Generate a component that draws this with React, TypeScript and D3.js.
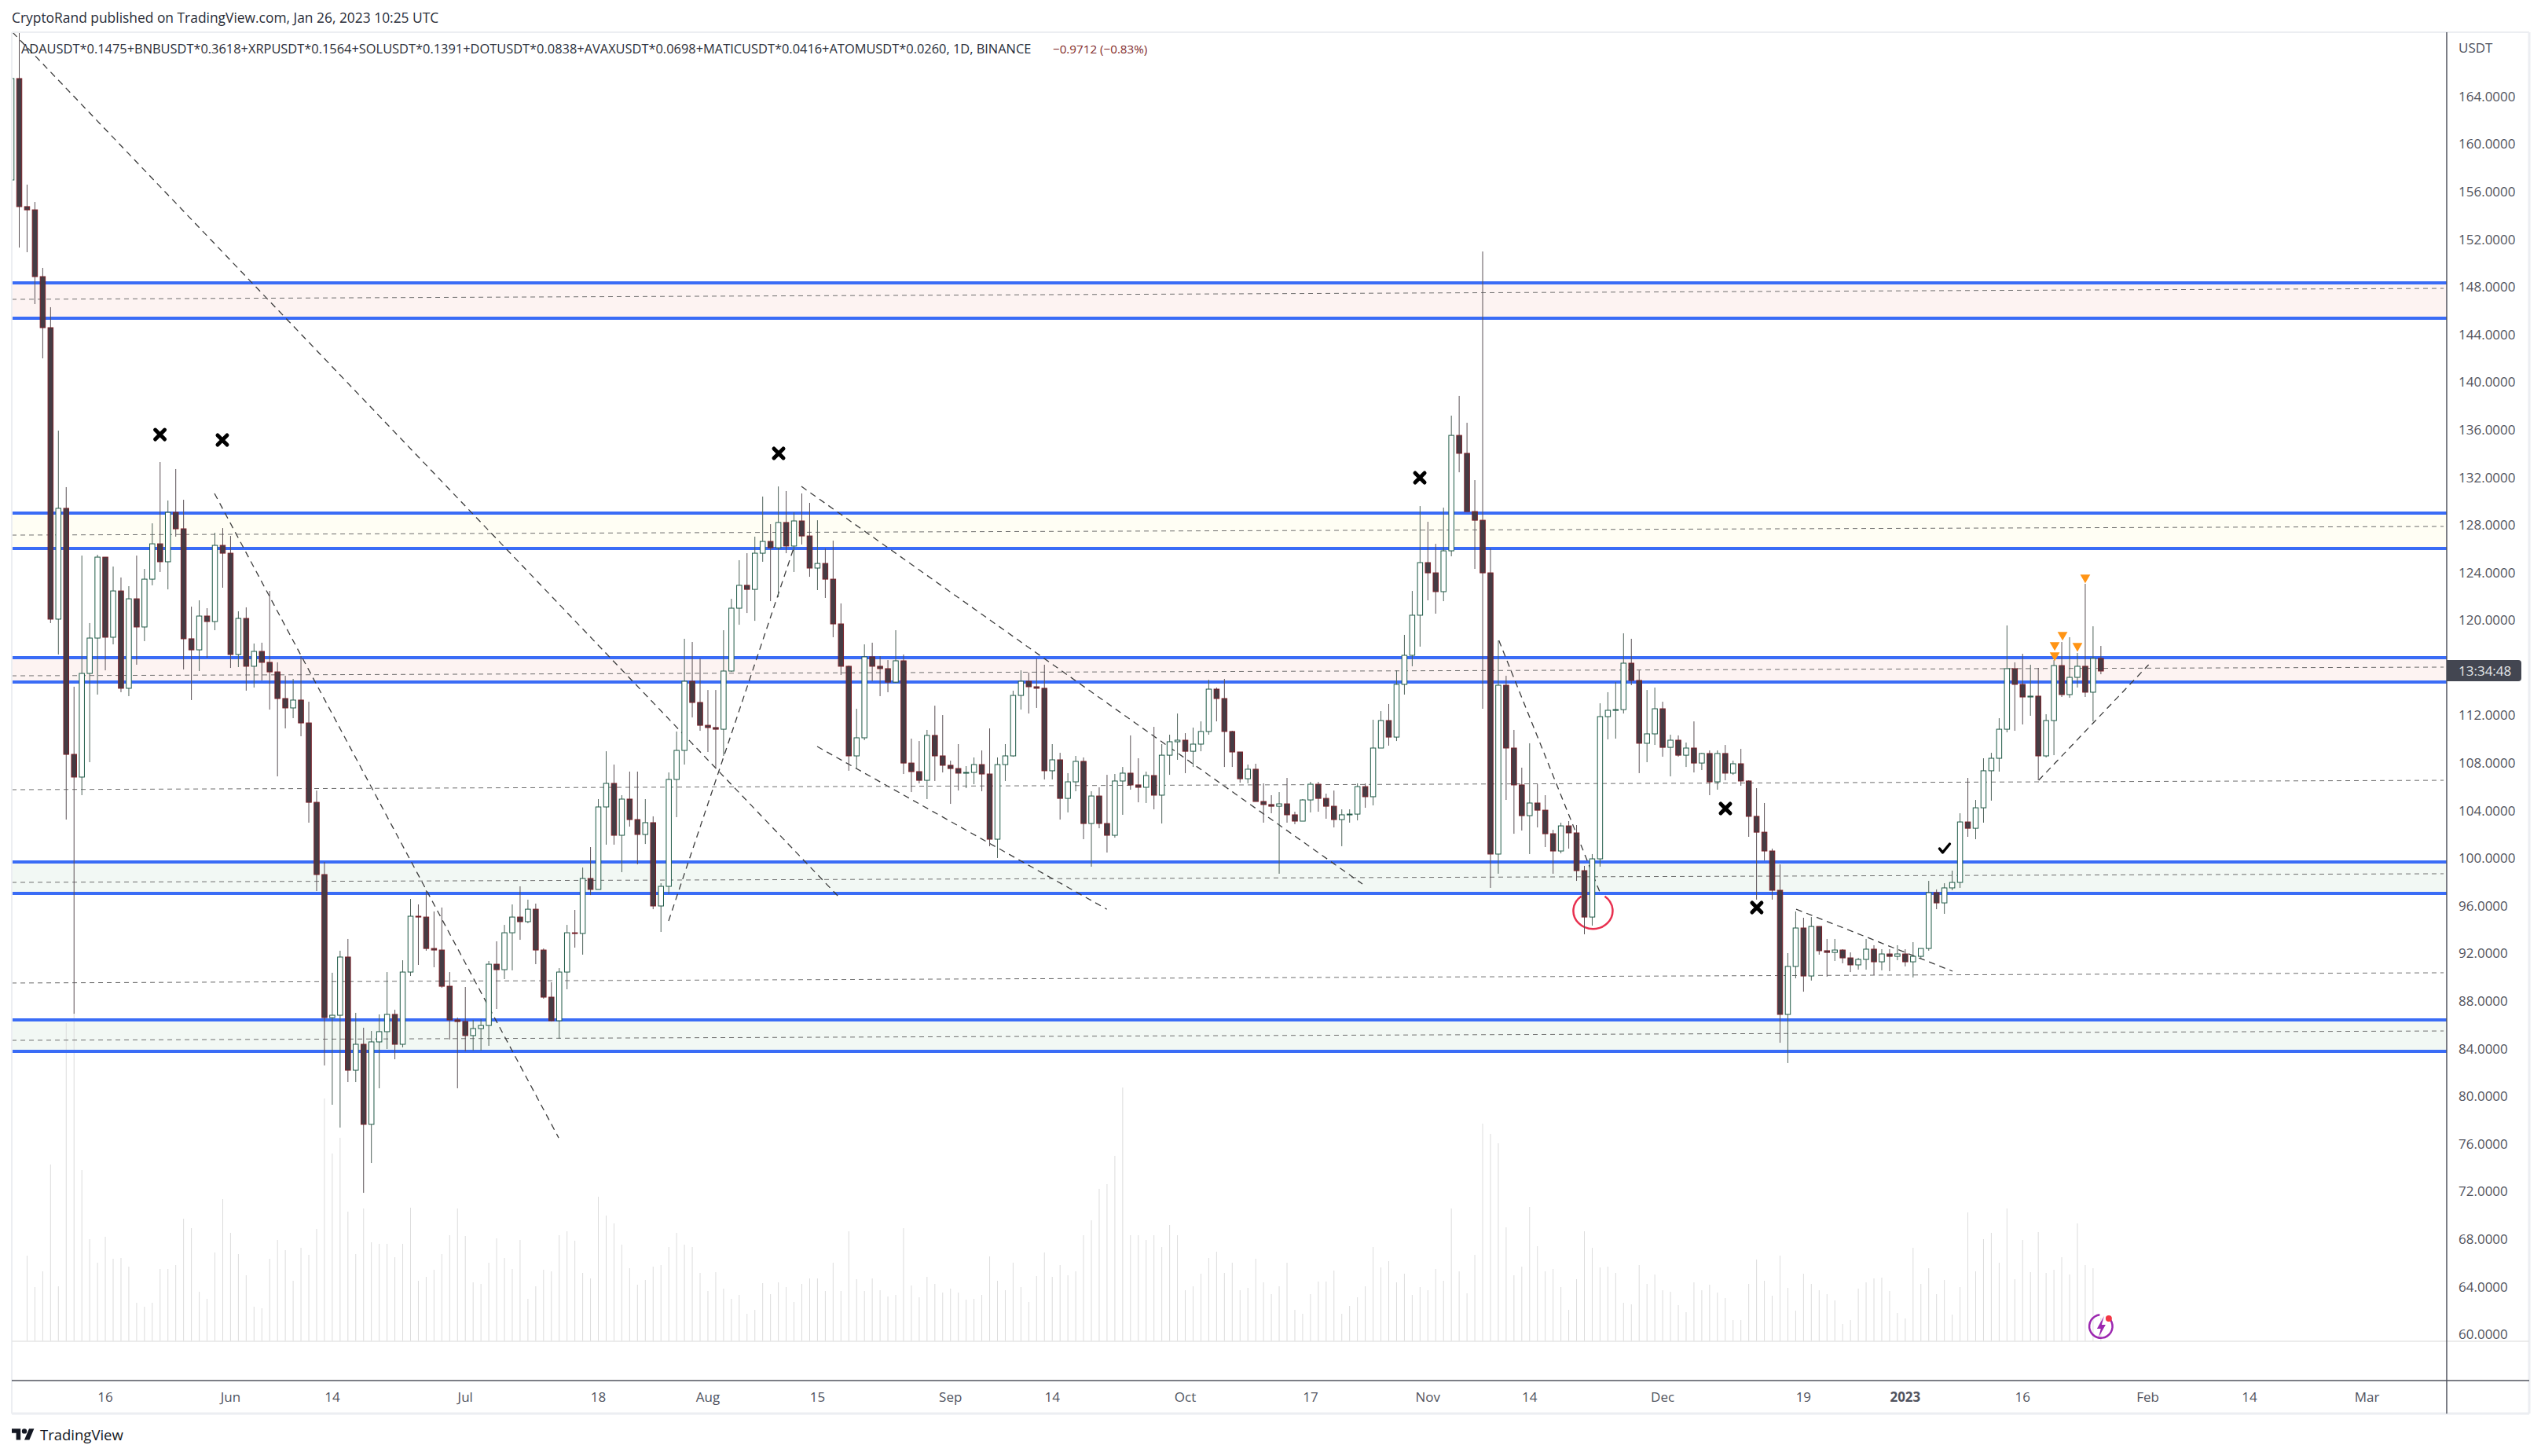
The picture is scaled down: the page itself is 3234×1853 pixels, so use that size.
import { arc, line, scaleLinear, scaleUtc, symbol, symbolTriangle, utcDay } from "d3";
import type { ReactElement } from "react";

const WIDTH = 3234;
const HEIGHT = 1853;
const FONT = "'Open Sans', 'Noto Sans', sans-serif";

const firstDay = new Date(Date.UTC(2022, 4, 5));
const dayOf = (bar: number): Date => utcDay.offset(firstDay, bar);

// bars start one day before firstDay, that candle is cut off by the left edge
const firstBar = -1;
const firstOpen = 156.98;

const closes = [
  165.5,
  154.74, 154.47, 148.86, 144.57, 120.08, 129.39, 108.72, 106.81, 115.52, 118.49,
  125.29, 118.56, 122.45, 114.27, 121.79, 119.42, 123.44, 126.41, 124.9, 129.05,
  127.67, 118.43, 117.5, 120.34, 119.88, 126.28, 125.62, 117.11, 120.14, 116.12,
  117.37, 116.45, 115.65, 113.41, 112.62, 113.28, 111.36, 104.69, 98.62, 86.6,
  86.8, 91.69, 82.18, 84.36, 77.63, 84.56, 85.42, 86.87, 84.36, 90.43,
  95.12, 95.05, 92.41, 92.28, 89.24, 86.41, 86.27, 85.09, 85.68, 85.94,
  91.09, 90.63, 93.73, 95.05, 94.66, 95.71, 92.28, 88.32, 86.34, 90.43,
  93.73, 93.67, 98.29, 97.37, 104.3, 106.28, 101.92, 104.96, 103.24, 101.99,
  102.98, 95.98, 97.63, 106.61, 109.05, 114.86, 113.08, 111.16, 110.97, 110.83,
  115.72, 121.0, 122.92, 122.58, 125.62, 126.61, 126.08, 128.2, 126.22, 128.33,
  127.07, 124.37, 124.76, 123.44, 119.68, 116.12, 108.59, 110.11, 116.91, 116.12,
  115.92, 114.79, 116.58, 107.99, 107.27, 106.54, 110.31, 108.59, 107.8, 107.53,
  107.14, 107.2, 107.86, 107.07, 101.59, 107.86, 108.59, 113.67, 114.86, 114.4,
  114.27, 107.34, 108.26, 105.02, 106.41, 108.13, 102.91, 105.22, 102.91, 101.92,
  106.48, 107.14, 106.15, 105.95, 106.94, 105.29, 108.65, 109.78, 109.91, 108.98,
  109.58, 110.64, 114.2, 113.41, 110.64, 108.92, 106.67, 107.47, 104.76, 104.5,
  104.36, 104.56, 103.64, 103.11, 104.89, 106.21, 105.02, 104.36, 103.24, 103.64,
  103.7, 106.01, 105.16, 109.25, 111.56, 110.17, 114.6, 117.04, 120.41, 124.83,
  123.97, 122.39, 125.82, 135.52, 134.01, 129.12, 128.39, 123.97, 100.34, 114.53,
  109.25, 106.15, 103.57, 104.63, 104.03, 102.05, 100.6, 102.71, 102.12, 98.95,
  95.05, 99.94, 111.89, 112.42, 112.48, 116.38, 114.93, 109.65, 110.44, 112.55,
  109.31, 109.91, 108.65, 109.25, 107.99, 108.79, 106.41, 108.79, 107.14, 107.93,
  106.48, 103.51, 102.18, 100.6, 97.3, 86.87, 90.9, 94.13, 90.1, 94.26,
  92.22, 92.08, 92.28, 91.62, 91.03, 91.49, 92.35, 91.29, 91.95, 91.75,
  91.95, 91.29, 91.75, 92.41, 97.1, 96.24, 97.5, 97.96, 103.04, 102.51,
  104.23, 107.34, 108.39, 110.83, 115.92, 114.6, 113.54, 113.61, 108.59, 111.56,
  116.18, 113.74, 115.19, 116.12, 113.94, 116.78, 115.72,
];

const highs = [
  165.5,
  169.79, 156.59, 155.13, 149.59, 146.29, 135.92, 131.17, 114.4, 125.42, 119.75,
  125.49, 125.29, 124.5, 123.58, 122.85, 125.42, 124.3, 128.13, 133.28, 130.05,
  132.69, 130.11, 121.13, 121.66, 121.0, 127.34, 127.73, 127.07, 120.74, 121.07,
  118.03, 118.1, 122.45, 116.45, 115.32, 115.06, 116.97, 113.14, 105.68, 99.68,
  90.37, 92.22, 93.21, 87.0, 85.75, 85.48, 86.87, 90.43, 87.26, 91.42,
  96.57, 96.11, 97.3, 95.52, 95.85, 90.43, 86.6, 89.18, 86.41, 86.47,
  91.36, 93.01, 94.39, 96.11, 97.63, 96.51, 96.18, 92.41, 89.57, 90.76,
  94.39, 95.65, 99.21, 100.93, 104.96, 108.98, 107.86, 105.29, 107.27, 107.27,
  104.96, 103.51, 97.89, 107.2, 110.64, 118.43, 118.16, 116.78, 114.13, 114.13,
  119.15, 121.79, 125.03, 125.62, 127.01, 130.38, 128.06, 131.23, 130.84, 129.05,
  130.64, 129.85, 128.39, 126.02, 126.68, 121.4, 116.18, 112.55, 117.96, 118.1,
  116.97, 116.64, 119.15, 117.11, 110.04, 109.84, 110.77, 112.81, 112.02, 108.19,
  109.58, 107.73, 108.46, 109.05, 110.9, 108.46, 109.58, 114.07, 115.78, 115.59,
  116.78, 116.25, 109.58, 108.85, 107.14, 108.59, 108.46, 105.62, 105.95, 107.0,
  107.07, 107.66, 110.31, 108.39, 107.27, 111.03, 109.58, 110.37, 112.15, 110.5,
  110.97, 111.49, 114.99, 114.33, 115.06, 110.7, 108.92, 107.86, 107.93, 106.28,
  105.29, 105.55, 106.74, 103.9, 104.96, 106.41, 106.41, 105.42, 105.68, 104.1,
  104.1, 106.28, 106.28, 111.63, 112.35, 112.95, 115.78, 118.76, 122.45, 129.58,
  128.26, 126.41, 129.45, 137.18, 138.83, 136.58, 131.76, 150.97, 126.02, 118.29,
  115.32, 110.77, 107.6, 109.65, 106.21, 105.29, 102.38, 102.98, 103.11, 102.78,
  99.35, 100.34, 113.01, 113.94, 114.79, 118.89, 118.43, 115.78, 114.13, 114.33,
  113.14, 110.37, 110.31, 109.71, 111.49, 108.85, 109.05, 109.05, 109.51, 108.19,
  109.18, 106.54, 105.88, 104.63, 100.8, 99.48, 92.02, 95.52, 94.99, 95.05,
  94.26, 93.21, 93.21, 92.35, 92.08, 91.62, 93.21, 92.68, 92.35, 92.35,
  92.68, 92.35, 92.94, 92.41, 98.09, 97.37, 97.89, 98.95, 103.77, 106.74,
  104.89, 108.39, 108.85, 111.76, 119.55, 116.45, 117.17, 116.25, 115.98, 112.09,
  116.64, 118.16, 118.56, 117.24, 123.05, 119.48, 117.83,
];

const lows = [
  156.98,
  151.3, 150.91, 146.55, 141.99, 119.75, 117.11, 103.24, 86.93, 105.29, 108.06,
  113.74, 115.78, 117.96, 113.94, 113.61, 116.25, 118.23, 122.92, 124.04, 122.58,
  127.01, 115.85, 113.28, 115.72, 116.84, 119.15, 122.72, 115.98, 116.05, 114.07,
  114.33, 114.93, 112.48, 106.87, 110.9, 111.76, 110.24, 102.98, 97.23, 82.58,
  79.28, 77.36, 81.19, 81.19, 71.88, 74.39, 80.66, 83.96, 83.1, 84.1,
  90.1, 91.03, 92.22, 90.83, 89.11, 84.76, 80.66, 83.77, 83.83, 83.83,
  84.23, 87.33, 89.84, 90.57, 93.14, 94.53, 91.09, 88.19, 86.27, 84.82,
  88.98, 92.48, 91.89, 96.9, 97.37, 101.13, 101.13, 98.82, 102.65, 99.48,
  101.19, 95.71, 93.8, 96.97, 103.44, 107.86, 111.82, 110.7, 108.92, 107.53,
  108.59, 115.65, 119.61, 120.6, 119.94, 124.9, 121.59, 121.92, 125.62, 124.04,
  126.35, 123.64, 122.52, 121.86, 118.56, 115.39, 107.34, 107.53, 109.91, 114.86,
  113.61, 113.94, 114.73, 107.07, 105.55, 106.28, 104.96, 106.48, 107.2, 104.56,
  105.68, 105.88, 106.21, 105.62, 101.0, 100.01, 106.48, 108.52, 112.48, 112.15,
  112.62, 106.61, 106.61, 103.24, 103.84, 105.62, 101.59, 99.28, 102.51, 100.47,
  101.72, 103.64, 105.75, 104.69, 104.63, 104.1, 102.91, 107.0, 108.26, 107.14,
  107.66, 108.98, 110.37, 111.49, 107.66, 107.66, 106.34, 106.28, 104.76, 102.98,
  103.77, 98.69, 102.98, 102.85, 103.11, 103.84, 103.9, 103.31, 102.58, 101.0,
  102.98, 103.17, 104.23, 104.43, 109.25, 109.45, 109.84, 113.74, 116.12, 117.77,
  121.66, 120.54, 121.59, 125.36, 132.42, 129.12, 124.3, 112.55, 97.5, 98.69,
  104.89, 102.05, 102.32, 100.34, 102.58, 100.93, 98.69, 100.4, 100.8, 98.09,
  93.6, 94.33, 99.28, 109.98, 110.04, 112.15, 114.53, 107.14, 108.06, 109.51,
  108.52, 106.87, 108.52, 107.66, 107.2, 107.4, 105.29, 105.75, 106.54, 107.0,
  106.08, 101.79, 96.51, 99.81, 96.51, 84.49, 82.78, 89.9, 88.78, 89.71,
  91.89, 90.04, 91.36, 91.16, 90.43, 90.63, 90.63, 90.17, 90.57, 90.5,
  91.42, 90.9, 89.97, 91.56, 92.22, 95.71, 95.32, 97.3, 97.5, 101.79,
  101.59, 102.98, 104.83, 107.27, 110.57, 110.7, 111.23, 111.96, 106.54, 108.46,
  108.65, 113.54, 113.47, 114.33, 113.54, 111.49, 115.45,
];

// no scale on the chart, units are relative
const volumes = [
  0,
  0, 109, 69, 89, 225, 70, 405, 418, 218, 130,
  100, 133, 105, 106, 95, 49, 44, 49, 92, 92,
  97, 156, 144, 63, 54, 113, 181, 138, 111, 84,
  44, 42, 105, 129, 116, 77, 119, 110, 143, 309,
  239, 259, 165, 111, 169, 126, 124, 124, 107, 124,
  170, 77, 82, 91, 111, 135, 169, 134, 75, 73,
  100, 131, 106, 92, 129, 54, 70, 91, 89, 135,
  140, 128, 87, 80, 184, 160, 150, 123, 93, 72,
  78, 95, 97, 120, 138, 123, 120, 87, 64, 88,
  67, 54, 59, 35, 40, 74, 60, 75, 69, 50,
  73, 80, 80, 64, 100, 64, 140, 79, 64, 80,
  65, 57, 59, 144, 71, 56, 82, 73, 62, 67,
  62, 53, 54, 59, 108, 77, 65, 100, 69, 50,
  83, 113, 82, 97, 84, 89, 135, 154, 194, 200,
  236, 323, 135, 135, 129, 135, 120, 148, 135, 65,
  70, 86, 106, 114, 87, 100, 65, 68, 105, 75,
  60, 70, 100, 40, 35, 60, 76, 76, 90, 35,
  45, 56, 70, 120, 94, 102, 75, 86, 59, 69,
  65, 92, 77, 169, 89, 61, 110, 277, 264, 252,
  145, 84, 95, 171, 121, 89, 92, 69, 40, 79,
  140, 119, 94, 95, 87, 49, 47, 97, 73, 85,
  65, 63, 46, 37, 75, 65, 72, 62, 55, 27,
  27, 73, 104, 77, 58, 109, 68, 39, 86, 73,
  65, 60, 52, 22, 27, 67, 75, 80, 81, 64,
  36, 29, 119, 73, 93, 60, 78, 34, 69, 164,
  89, 130, 138, 100, 169, 79, 129, 88, 139, 87,
  91, 107, 85, 150, 97, 93, 30,
];

// support / resistance bands: [upper, lower, fill]
const bandTops = [148.33, 128.99, 116.84, 99.68, 86.41];
const bandBottoms = [145.36, 126.02, 114.79, 97.04, 83.77];
const bandFills = ["#fdf3f2", "#fffef4", "#fdf3f2", "#f2f8f4", "#f2f8f4"];

// gray dashed mid lines, price at the left edge and at the axis
const midLeft = [146.95, 127.14, 115.32, 105.75, 97.96, 89.51, 84.69];
const midRight = [147.87, 127.87, 116.05, 106.54, 98.69, 90.37, 85.48];
const midFromBar = -0.95;
const midToBar = 309.8;

// dark dashed trend lines: [bar, price, bar, price]
const trendLines = [
  [-0.85, 169.39, 104.87, 96.64],
  [24.95, 130.64, 68.93, 76.5],
  [82.98, 94.73, 99.05, 126.22],
  [99.95, 131.23, 171.64, 97.83],
  [101.96, 109.38, 138.97, 95.71],
  [189.07, 118.29, 201.96, 97.17],
  [227.06, 95.71, 247.04, 90.5],
  [258.05, 106.54, 272.1, 116.25],
];

const crossBars = [17.98, 25.95, 97.04, 178.97, 218.02, 222.03];
const crossPrices = [135.59, 135.13, 134.01, 131.96, 104.17, 95.85];
const checkBar = 245.98;
const checkPrice = 100.8;
const arrowBars = [260.1, 261.1, 263, 260.1, 264];
const arrowPrices = [117.9, 118.76, 117.83, 117.04, 123.58];
const circleBar = 201.1;
const circlePrice = 95.6;
const flashBar = 266;
const flashPrice = 60.66;

const priceTicks = [164, 160, 156, 152, 148, 144, 140, 136, 132, 128, 124, 120, 116, 112, 108, 104, 100, 96, 92, 88, 84, 80, 76, 72, 68, 64, 60];
const dateTicks = [11, 27, 40, 57, 74, 88, 102, 119, 132, 149, 165, 180, 193, 210, 228, 241, 256, 272, 285, 300];
const dateLabels = ["16", "Jun", "14", "Jul", "18", "Aug", "15", "Sep", "14", "Oct", "17", "Nov", "14", "Dec", "19", "2023", "16", "Feb", "14", "Mar"];

const titleText = "CryptoRand published on TradingView.com, Jan 26, 2023 10:25 UTC";
const legendText = "ADAUSDT*0.1475+BNBUSDT*0.3618+XRPUSDT*0.1564+SOLUSDT*0.1391+DOTUSDT*0.0838+AVAXUSDT*0.0698+MATICUSDT*0.0416+ATOMUSDT*0.0260, 1D, BINANCE";
const changeText = "\u22120.9712 (\u22120.83%)";
const countdownText = "13:34:48";

const left = 15;
const top = 41;
const axisX = 3114;
const rightEdge = 3219;
const paneBottom = 1757;
const frameBottom = 1799;
const volumeBase = 1707;

const xScale = scaleUtc().domain([dayOf(0), dayOf(300)]).range([24.5, 3012.5]);
const yScale = scaleLinear().domain([60, 164]).range([1698, 122.7]);
const volumeScale = scaleLinear().domain([0, 100]).range([volumeBase, volumeBase - 100]);

const xAt = (bar: number): number => xScale(dayOf(Math.floor(bar))) + (bar - Math.floor(bar)) * (xScale(dayOf(1)) - xScale(dayOf(0)));

const pathOf = line<[number, number]>()
  .x((d) => xAt(d[0]))
  .y((d) => yScale(d[1]));

const arrowPath = symbol().type(symbolTriangle).size(70)() ?? "";
const flashRing = arc()({ innerRadius: 13.5, outerRadius: 16, startAngle: 0.75, endAngle: 2 * Math.PI - 0.1 } as never) ?? "";

export default function App(): ReactElement {
  const bodyWidth = 6.5;
  const lastY = yScale(closes[closes.length - 1]);

  return (
    <svg
      width={WIDTH}
      height={HEIGHT}
      viewBox={`0 0 ${WIDTH} ${HEIGHT}`}
      style={{ position: "absolute", left: 0, top: 0, display: "block", background: "#fff" }}
      fontFamily={FONT}
    >
      <defs>
        <clipPath id="pane-clip">
          <rect x={left} y={top} width={axisX - left} height={paneBottom - top} />
        </clipPath>
      </defs>

      <text x={15} y={29} fontSize={17.4} fill="#2a2e39">{titleText}</text>

      <g clipPath="url(#pane-clip)">
        {bandTops.map((upper, i) => (
          <rect key={`band-${i}`} x={left} width={axisX - left} y={yScale(upper)} height={yScale(bandBottoms[i]) - yScale(upper)} fill={bandFills[i]} />
        ))}

        {volumes.map((v, i) => {
          if (v === 0) return null;
          const x = xAt(i + firstBar);
          return <line key={`vol-${i}`} x1={x} x2={x} y1={volumeBase} y2={volumeScale(v)} stroke="#dcdcdc" strokeWidth={1} />;
        })}

        {midLeft.map((price, i) => (
          <path
            key={`mid-${i}`}
            d={pathOf([[midFromBar, price], [midToBar, midRight[i]]]) ?? ""}
            fill="none"
            stroke="#6e6e6e"
            strokeWidth={1}
            strokeDasharray="6 5"
          />
        ))}

        <path
          transform={`translate(${xAt(circleBar)},${yScale(circlePrice)})`}
          d="M-15,-18A25,23 0 1 0 15,-18"
          fill="none"
          stroke="#e8304f"
          strokeWidth={2.5}
        />

        {bandTops.map((upper, i) => (
          <g key={`edge-${i}`}>
            <line x1={left} x2={axisX} y1={yScale(upper)} y2={yScale(upper)} stroke="#3a6cf6" strokeWidth={4} />
            <line x1={left} x2={axisX} y1={yScale(bandBottoms[i])} y2={yScale(bandBottoms[i])} stroke="#3a6cf6" strokeWidth={4} />
          </g>
        ))}

        {trendLines.map((t, i) => (
          <path
            key={`trend-${i}`}
            d={pathOf([[t[0], t[1]], [t[2], t[3]]]) ?? ""}
            fill="none"
            stroke="#3c3c3c"
            strokeWidth={1.3}
            strokeDasharray="8 6"
          />
        ))}

        {closes.map((close, i) => {
          const open = i === 0 ? firstOpen : closes[i - 1];
          const x = xAt(i + firstBar);
          const up = close >= open;
          const yTop = yScale(Math.max(open, close));
          const yBottom = yScale(Math.min(open, close));
          return (
            <g key={`bar-${i}`}>
              <line x1={x} x2={x} y1={yScale(highs[i])} y2={yScale(lows[i])} stroke={up ? "#4f625a" : "#5a5055"} strokeWidth={1} />
              <rect
                x={x - bodyWidth / 2}
                y={yTop}
                width={bodyWidth}
                height={Math.max(yBottom - yTop, 1)}
                fill={up ? "#ffffff" : "#453c44"}
                stroke={up ? "#1f5a47" : "#7a2028"}
                strokeWidth={1}
              />
            </g>
          );
        })}

        {crossBars.map((bar, i) => (
          <path
            key={`cross-${i}`}
            transform={`translate(${xAt(bar)},${yScale(crossPrices[i])})`}
            d="M-6,-6L6,6M6,-6L-6,6"
            stroke="#000"
            strokeWidth={5}
            strokeLinecap="round"
            fill="none"
          />
        ))}

        <path
          transform={`translate(${xAt(checkBar)},${yScale(checkPrice)})`}
          d="M-6,0L-2,5L7,-6"
          stroke="#000"
          strokeWidth={3.5}
          strokeLinecap="round"
          strokeLinejoin="round"
          fill="none"
        />

        {arrowBars.map((bar, i) => (
          <path
            key={`arrow-${i}`}
            transform={`translate(${xAt(bar)},${yScale(arrowPrices[i])}) rotate(180)`}
            d={arrowPath}
            fill="#ff9414"
          />
        ))}

        <g transform={`translate(${xAt(flashBar)},${yScale(flashPrice)})`}>
          <path d={flashRing} fill="#9c27b0" />
          <path d="M4,-13L-5,3L0,3L-3,14L6,-2L1,-2Z" fill="#9c27b0" />
          <circle cx={10} cy={-10} r={4} fill="#f23645" />
        </g>
      </g>

      <text x={27} y={68} fontSize={16.4} fill="#2a2e39">{legendText}</text>
      <text x={1340} y={68} fontSize={15.2} fill="#7f2a2a">{changeText}</text>

      {/* frame */}
      <line x1={left} x2={rightEdge} y1={top} y2={top} stroke="#eceef2" strokeWidth={2} />
      <line x1={left} x2={left} y1={top} y2={frameBottom} stroke="#eceef2" strokeWidth={2} />
      <line x1={rightEdge} x2={rightEdge} y1={top} y2={frameBottom} stroke="#eceef2" strokeWidth={3} />
      <line x1={left} x2={rightEdge} y1={frameBottom} y2={frameBottom} stroke="#eceef2" strokeWidth={3} />
      <line x1={left} x2={rightEdge} y1={volumeBase} y2={volumeBase} stroke="#e6e6e6" strokeWidth={1.5} />
      <line x1={left} x2={rightEdge} y1={paneBottom} y2={paneBottom} stroke="#50535e" strokeWidth={1.5} />
      <line x1={axisX} x2={axisX} y1={top} y2={frameBottom} stroke="#50535e" strokeWidth={1.5} />

      <text x={3129} y={67} fontSize={17} fill="#50535e">USDT</text>
      {priceTicks.map((tick) => (
        <text key={`price-${tick}`} x={3129} y={yScale(tick)} dy="0.36em" fontSize={17} fill="#50535e">
          {tick.toFixed(4)}
        </text>
      ))}

      <path d={`M${axisX},${lastY - 14}H3205a4,4 0 0 1 4,4V${lastY + 9}a4,4 0 0 1 -4,4H${axisX}Z`} fill="#434651" />
      <text x={3129} y={lastY} dy="0.36em" fontSize={17} fill="#e6e6e6">{countdownText}</text>

      {dateTicks.map((bar, i) => (
        <text
          key={`date-${bar}`}
          x={xAt(bar)}
          y={1778}
          dy="0.36em"
          textAnchor="middle"
          fontSize={17}
          fontWeight={dateLabels[i] === "2023" ? 700 : 400}
          fill="#50535e"
        >
          {dateLabels[i]}
        </text>
      ))}

      <g transform="translate(15,1815) scale(0.8)" fill="#131722">
        <path d="M14 22H7V11H0V4h14v18zM28 22h-8l7.5-18h8L28 22z" />
        <circle cx={20} cy={8} r={4} />
      </g>
      <text x={51} y={1833} fontSize={18.5} fontWeight={500} fill="#131722">TradingView</text>
    </svg>
  );
}
